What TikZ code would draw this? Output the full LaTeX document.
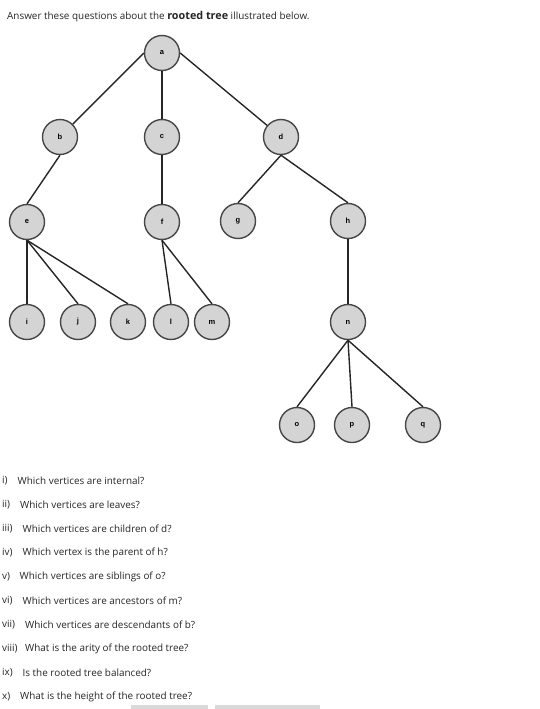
\documentclass[tikz,border=0pt]{standalone}
\usepackage{fontspec}
\setmainfont{Open Sans}
\setsansfont{Open Sans}
\newfontfamily\lblfont{Liberation Sans}
\begin{document}
\begin{tikzpicture}[x=1pt,y=-1pt,
  vtx/.style={circle,draw=black!72,line width=1.4pt,fill=black!17,minimum size=35pt,inner sep=0pt,font=\lblfont\fontsize{7.5}{8}\selectfont\bfseries},
  edge/.style={draw=black!85,line width=1.4pt},
  qtext/.style={anchor=west,inner sep=0pt,font=\fontsize{9.9}{11}\selectfont,text=black!85},
  bar/.style={fill=black!15,draw=none}]
\useasboundingbox (0,0) rectangle (540,709);
\fill[white] (0,0) rectangle (540,709);
\node[qtext] (hdr) at (7,17) {Answer these questions about the {\bfseries\fontsize{10.8}{11}\selectfont rooted tree} illustrated below.};
% vertices
\node[vtx] (a) at (162,53) {a};
\node[vtx] (b) at (60,137) {b};
\node[vtx] (c) at (162,137) {c};
\node[vtx] (d) at (281,137) {d};
\node[vtx] (e) at (27,222) {e};
\node[vtx] (f) at (162,222) {f};
\node[vtx] (g) at (238,221) {g};
\node[vtx] (h) at (348,221) {h};
\node[vtx] (i) at (27,322) {i};
\node[vtx] (j) at (78,322) {j};
\node[vtx] (k) at (128,322) {k};
\node[vtx] (l) at (171,322) {l};
\node[vtx] (m) at (212,322) {m};
\node[vtx] (n) at (348,322) {n};
\node[vtx] (o) at (297,425) {o};
\node[vtx] (p) at (352,425) {p};
\node[vtx] (q) at (423,425) {q};
% edges
\draw[edge] (a.west) -- (b);
\draw[edge] (a.south) -- (c.north);
\draw[edge] (a.east) -- (d);
\draw[edge] (b.south) -- (e.north);
\draw[edge] (c.south) -- (f.north);
\draw[edge] (d.south) -- (g.north);
\draw[edge] (d.south) -- (h.north);
\draw[edge] (e.south) -- (i.north);
\draw[edge] (e.south) -- (j.north);
\draw[edge] (e.south) -- (k.north);
\draw[edge] (f.south) -- (l.north);
\draw[edge] (f.south) -- (m.north);
\draw[edge] (h.south) -- (n.north);
\draw[edge] (n.south) -- (o.north);
\draw[edge] (n.south) -- (p.north);
\draw[edge] (n.south) -- (q.north);
% questions
\node[qtext] (q1n) at (2,481) {i)};   \node[qtext] (q1) at (17.5,481) {Which vertices are internal?};
\node[qtext] (q2n) at (2,505) {ii)};  \node[qtext] (q2) at (20,505) {Which vertices are leaves?};
\node[qtext] (q3n) at (2,529) {iii)}; \node[qtext] (q3) at (22.5,529) {Which vertices are children of d?};
\node[qtext] (q4n) at (2,553) {iv)};  \node[qtext] (q4) at (22.5,553) {Which vertex is the parent of h?};
\node[qtext] (q5n) at (2,577) {v)};   \node[qtext] (q5) at (19.5,577) {Which vertices are siblings of o?};
\node[qtext] (q6n) at (2,601) {vi)};  \node[qtext] (q6) at (22.5,601) {Which vertices are ancestors of m?};
\node[qtext] (q7n) at (2,625) {vii)}; \node[qtext] (q7) at (25,625) {Which vertices are descendants of b?};
\node[qtext] (q8n) at (2,649) {viii)};\node[qtext] (q8) at (25,649) {What is the arity of the rooted tree?};
\node[qtext] (q9n) at (2,673) {ix)};  \node[qtext] (q9) at (22.5,673) {Is the rooted tree balanced?};
\node[qtext] (q10n) at (2,697) {x)};  \node[qtext] (q10) at (20,697) {What is the height of the rooted tree?};
% partial bars at bottom
\fill[bar] (131,705) rectangle (208,709);
\fill[bar] (215,705) rectangle (320,709);
\end{tikzpicture}
\end{document}
